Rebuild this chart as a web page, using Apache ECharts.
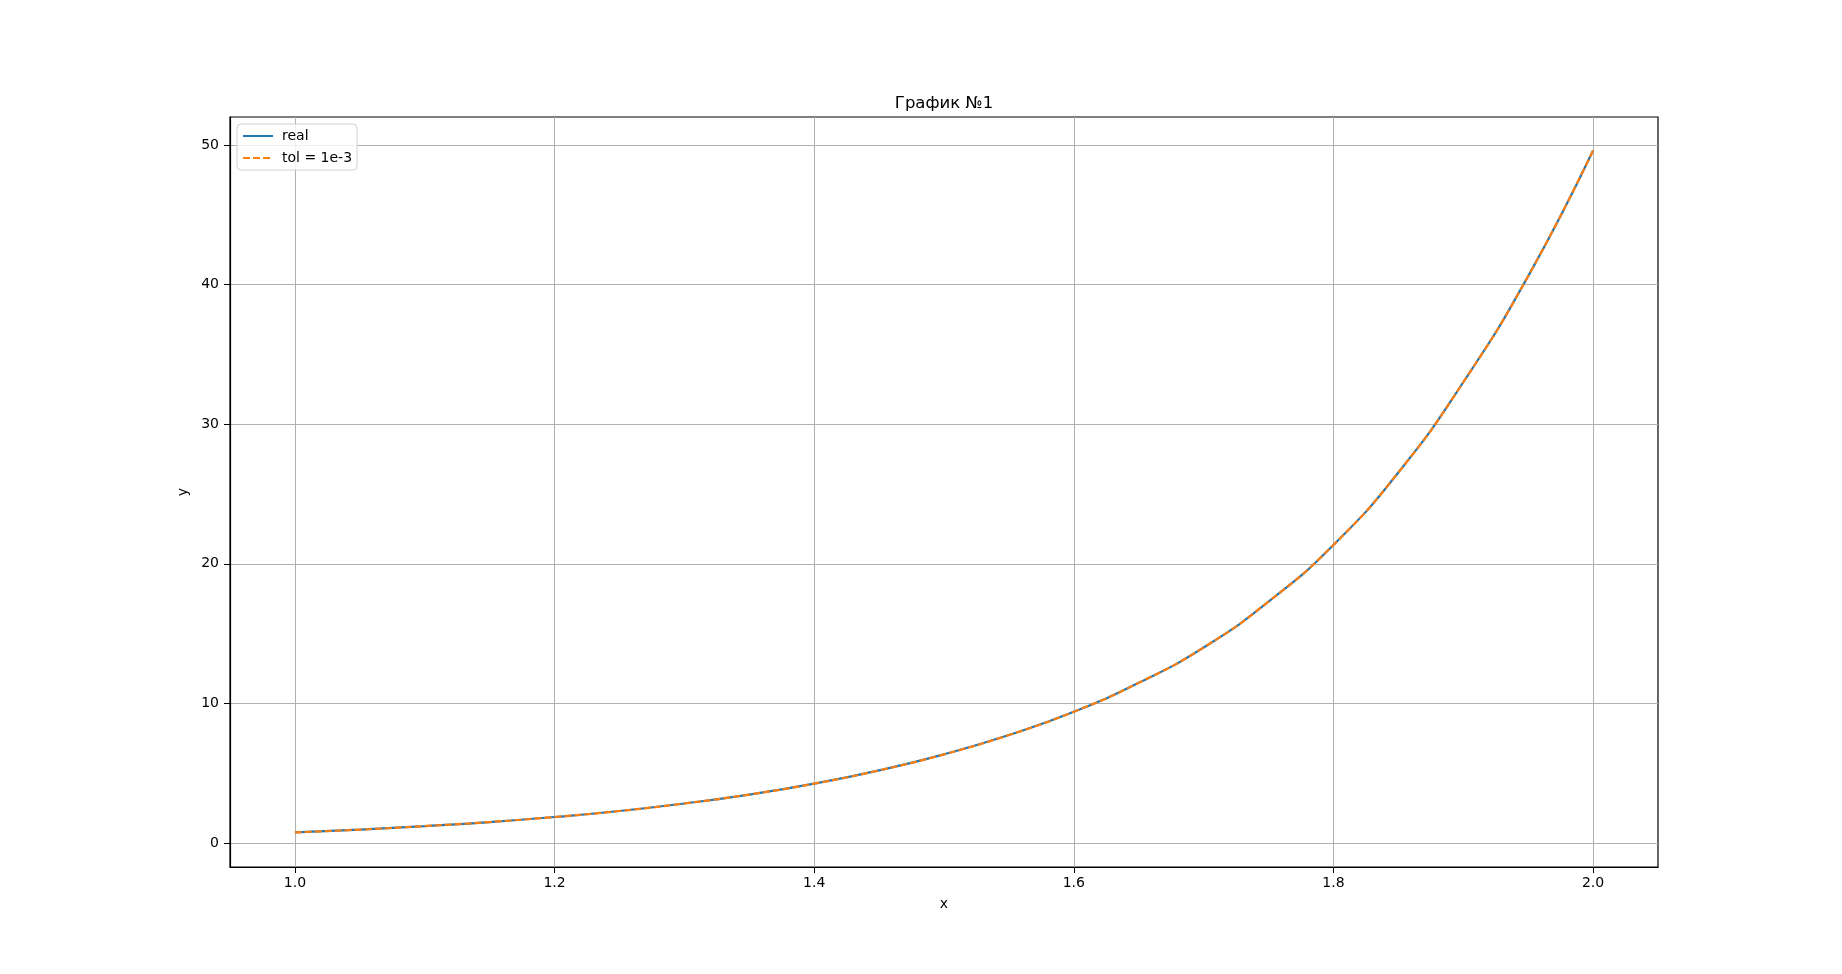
<!DOCTYPE html>
<html lang="ru" style="height: 100%">
<head>
  <meta charset="utf-8">
</head>
<body style="height: 100%; margin: 0; background: #fff">
  <div id="container" style="height: 100%"></div>

  <script type="text/javascript" src="https://fastly.jsdelivr.net/npm/echarts@6.0.0/dist/echarts.min.js"></script>

  <script type="text/javascript">
    // values
    var xValues = [1.00, 1.05, 1.10, 1.15, 1.20, 1.25, 1.30, 1.35, 1.40, 1.45, 1.50,
                   1.55, 1.60, 1.65, 1.70, 1.75, 1.80, 1.85, 1.90, 1.95, 2.00];
    var realY = [0.76, 0.96, 1.21, 1.50, 1.86, 2.29, 2.83, 3.47, 4.25, 5.20, 6.35,
                 7.73, 9.40, 11.47, 14.0, 17.29, 21.35, 26.54, 33.0, 40.6, 49.6];
    var tolY = [0.76, 0.96, 1.21, 1.50, 1.86, 2.29, 2.83, 3.47, 4.25, 5.20, 6.35,
                7.73, 9.40, 11.47, 14.0, 17.29, 21.35, 26.54, 33.0, 40.6, 49.6];
    var xTicks = [1.0, 1.2, 1.4, 1.6, 1.8, 2.0];
    var yTicks = [0, 10, 20, 30, 40, 50];

    var dom = document.getElementById('container');
    var myChart = echarts.init(dom, null, { renderer: 'canvas' });
    var font = 'DejaVu Sans';

    function pairs(ys) {
      return xValues.map(function (x, i) { return [x, ys[i]]; });
    }

    var option = {
      animation: false,
      backgroundColor: '#fff',
      textStyle: { fontFamily: font, color: '#000' },
      title: {
        text: 'График №1',
        left: 939,
        top: 90,
        textAlign: 'center',
        textStyle: { fontFamily: font, fontSize: 16.5, fontWeight: 'normal', color: '#000' }
      },
      legend: {
        orient: 'vertical',
        left: 237,
        top: 124,
        padding: [5, 5, 5, 5],
        itemWidth: 30,
        itemHeight: 14,
        itemGap: 8,
        borderColor: '#d0d0d0',
        borderWidth: 1,
        borderRadius: 4,
        backgroundColor: 'rgba(255,255,255,0.8)',
        itemStyle: { opacity: 0 },
        textStyle: { fontFamily: font, fontSize: 14, color: '#000', padding: [0, 0, 0, 4] },
        data: ['real', 'tol = 1e-3']
      },
      grid: {
        left: 230,
        top: 117,
        right: 184,
        bottom: 107,
        show: true,
        borderColor: '#000',
        borderWidth: 1.2,
        containLabel: false
      },
      xAxis: {
        type: 'value',
        min: 0.95,
        max: 2.05,
        name: 'x',
        nameLocation: 'middle',
        nameGap: 30,
        nameTextStyle: { fontFamily: font, fontSize: 14, color: '#000' },
        axisLine: { onZero: false, lineStyle: { color: '#000', width: 1.2 } },
        axisTick: { show: true, inside: false, length: 6, customValues: xTicks, lineStyle: { color: '#000' } },
        axisLabel: {
          customValues: xTicks,
          margin: 9,
          fontFamily: font,
          fontSize: 14,
          color: '#000',
          formatter: function (v) { return v.toFixed(1); }
        },
        splitLine: { show: true, lineStyle: { color: '#b0b0b0', width: 1 } }
      },
      yAxis: {
        type: 'value',
        min: -1.72,
        max: 52.0,
        name: 'y',
        nameLocation: 'middle',
        nameGap: 23,
        nameTextStyle: { fontFamily: font, fontSize: 14, color: '#000' },
        axisLine: { show: true, onZero: false, lineStyle: { color: '#000', width: 1.2 } },
        axisTick: { show: true, inside: false, length: 6, customValues: yTicks, lineStyle: { color: '#000' } },
        axisLabel: {
          customValues: yTicks,
          margin: 11,
          fontFamily: font,
          fontSize: 14,
          color: '#000'
        },
        splitLine: { show: true, lineStyle: { color: '#b0b0b0', width: 1 } }
      },
      series: [
        {
          name: 'real',
          type: 'line',
          data: pairs(realY),
          smooth: true,
          symbol: 'none',
          lineStyle: { color: '#1f77b4', width: 2.2 },
          itemStyle: { color: '#1f77b4' },
          z: 2
        },
        {
          name: 'tol = 1e-3',
          type: 'line',
          data: pairs(tolY),
          smooth: true,
          symbol: 'none',
          lineStyle: { color: '#ff7f0e', width: 2.2, type: [7, 3] },
          itemStyle: { color: '#ff7f0e' },
          z: 3
        }
      ]
    };

    myChart.setOption(option);
    window.addEventListener('resize', myChart.resize);
  </script>
</body>
</html>
